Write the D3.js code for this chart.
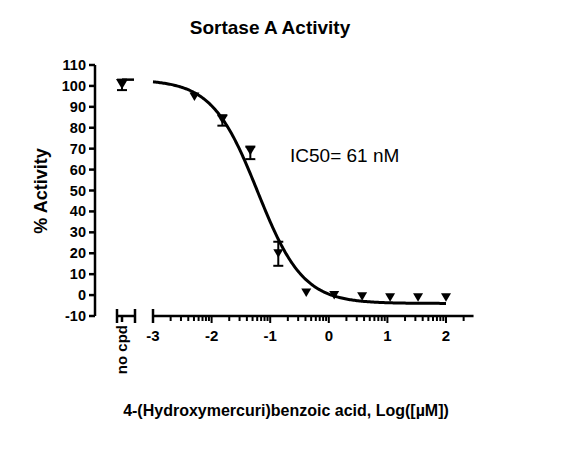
<!DOCTYPE html><html><head><meta charset="utf-8"><script src="https://cdn.jsdelivr.net/npm/d3@7"></script>
<style>body{margin:0;background:#fff}text{font-family:Arial,"Liberation Sans",sans-serif}</style></head><body><svg id="c" width="563" height="451"></svg>
<script>
const logConc=[2,1.523,1.046,0.569,0.092,-0.385,-0.862,-1.339,-1.816,-2.293];
const activity=[-1,-1,-1,-0.5,0,1.2,20,69,84,95];
const errLow=[null,null,null,null,null,null,14,65,81,null];
const errHigh=[null,null,null,null,null,null,25.5,71,86,null];
const noCpd={value:101,low:98,high:103};
const fit={top:103,bottom:-4,logIC50:-1.215,hill:1.12};
const yTicks=[-10,0,10,20,30,40,50,60,70,80,90,100,110];
const xTicks=[-3,-2,-1,0,1,2];
const svg=d3.select("#c");
const y=d3.scaleLinear().domain([-10,110]).range([316,65]);
const x=d3.scaleLinear().domain([-3,2]).range([153,446]);
const g=svg.append("g");
g.append("line").attr("x1",95).attr("x2",95).attr("y1",y(-10)).attr("y2",y(110)).attr("stroke","#000").attr("stroke-width",2.5);
yTicks.forEach(t=>{g.append("line").attr("x1",89).attr("x2",95).attr("y1",y(t)).attr("y2",y(t)).attr("stroke","#000").attr("stroke-width",2.5);
g.append("text").attr("x",86).attr("y",y(t)+5).attr("text-anchor","end").attr("font-weight","bold").attr("font-size",14.5).text(t);});
g.append("line").attr("x1",117).attr("x2",135).attr("y1",316).attr("y2",316).attr("stroke","#000").attr("stroke-width",2.5);
[117,135].forEach(v=>g.append("line").attr("x1",v).attr("x2",v).attr("y1",309).attr("y2",323).attr("stroke","#000").attr("stroke-width",2.5));
g.append("line").attr("x1",122).attr("x2",122).attr("y1",316).attr("y2",322).attr("stroke","#000").attr("stroke-width",2.5);
g.append("text").attr("transform","translate(127,325) rotate(-90)").attr("text-anchor","end").attr("font-weight","bold").attr("font-size",15).text("no cpd");
const xmax=2.47;
g.append("line").attr("x1",x(-3)).attr("x2",x(xmax)).attr("y1",316).attr("y2",316).attr("stroke","#000").attr("stroke-width",2.5);
g.append("line").attr("x1",x(-3)).attr("x2",x(-3)).attr("y1",309).attr("y2",323).attr("stroke","#000").attr("stroke-width",2.5);
for(let d=-3;d<=2;d++){for(let k=2;k<=10;k++){const v=d+Math.log10(k);if(v>xmax)continue;
g.append("line").attr("x1",x(v)).attr("x2",x(v)).attr("y1",316).attr("y2",k===10?323:321).attr("stroke","#000").attr("stroke-width",2);}}
xTicks.forEach(t=>g.append("text").attr("x",x(t)).attr("y",341).attr("text-anchor","middle").attr("font-weight","bold").attr("font-size",15).text(t));
const cx=d3.range(-3,2.001,0.02);
const f=v=>fit.bottom+(fit.top-fit.bottom)/(1+Math.pow(10,(v-fit.logIC50)*fit.hill));
g.append("path").attr("d",d3.line().x(d=>x(d)).y(d=>y(f(d)))(cx)).attr("fill","none").attr("stroke","#000").attr("stroke-width",3);
const tri=(px,py,s)=>g.append("path").attr("d",`M${px-s},${py-s*0.8}L${px+s},${py-s*0.8}L${px},${py+s*0.9}Z`).attr("fill","#000");
const eb=(px,lo,hi)=>{g.append("line").attr("x1",px).attr("x2",px).attr("y1",y(lo)).attr("y2",y(hi)).attr("stroke","#000").attr("stroke-width",2);
[lo,hi].forEach(v=>g.append("line").attr("x1",px-5).attr("x2",px+5).attr("y1",y(v)).attr("y2",y(v)).attr("stroke","#000").attr("stroke-width",2));};
logConc.forEach((c,i)=>{if(errLow[i]!=null)eb(x(c),errLow[i],errHigh[i]);tri(x(c),y(activity[i]),5);});
eb(122,noCpd.low,noCpd.high);
g.append("line").attr("x1",122).attr("x2",134).attr("y1",y(noCpd.high)).attr("y2",y(noCpd.high)).attr("stroke","#000").attr("stroke-width",2.5);
tri(122,y(noCpd.value),6);
svg.append("text").attr("x",270).attr("y",34).attr("text-anchor","middle").attr("font-weight","bold").attr("font-size",19).text("Sortase A Activity");
svg.append("text").attr("transform","translate(47,191) rotate(-90)").attr("text-anchor","middle").attr("font-weight","bold").attr("font-size",18).text("% Activity");
svg.append("text").attr("x",286).attr("y",416).attr("text-anchor","middle").attr("font-weight","bold").attr("font-size",16).text("4-(Hydroxymercuri)benzoic acid, Log([µM])");
svg.append("text").attr("x",290).attr("y",162).attr("font-size",19).text("IC50= 61 nM");
</script></body></html>
